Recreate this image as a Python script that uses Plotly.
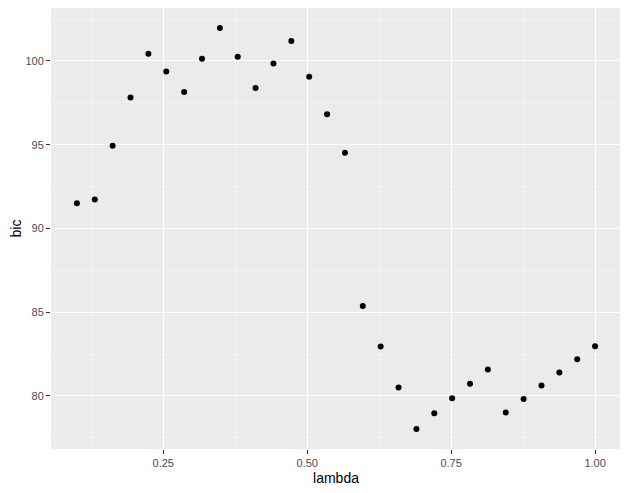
import plotly.graph_objects as go

# lambda grid and BIC
lam = [0.1 + i * 0.9 / 29 for i in range(30)]
bic = [91.50, 91.72, 94.93, 97.82, 100.42, 99.37, 98.14, 100.12, 101.96, 100.24,
       98.38, 99.84, 101.19, 99.05, 96.81, 94.51, 85.37, 82.95, 80.51, 78.03,
       78.97, 79.86, 80.73, 81.58, 79.01, 79.82, 80.63, 81.40, 82.19, 82.97]

x_ticks = [0.25, 0.50, 0.75, 1.00]
x_labels = ["0.25", "0.50", "0.75", "1.00"]
y_ticks = [80, 85, 90, 95, 100]

fig = go.Figure()
fig.add_trace(go.Scatter(
    x=lam, y=bic, mode="markers",
    marker=dict(color="black", size=6, line=dict(width=0)),
    showlegend=False,
))

x_span = max(lam) - min(lam)
y_span = max(bic) - min(bic)

axis_common = dict(
    automargin=False,
    showgrid=True, gridcolor="white", gridwidth=1.1,
    zeroline=False, showline=False,
    ticks="outside", ticklen=4, tickwidth=1.1, tickcolor="#333333",
    tickfont=dict(family="Liberation Sans, Arial, sans-serif", size=11, color="#4D4D4D"),
    minor=dict(showgrid=True, gridcolor="#F2F2F2", gridwidth=0.6, ticks=""),
)

fig.update_xaxes(
    range=[min(lam) - 0.05 * x_span, max(lam) + 0.05 * x_span],
    tickvals=x_ticks, ticktext=x_labels,
    title=dict(text="lambda", standoff=4,
               font=dict(family="Liberation Sans, Arial, sans-serif", size=14, color="black")),
    **axis_common,
)
fig.update_xaxes(minor_tickvals=[0.125, 0.375, 0.625, 0.875])

fig.update_yaxes(
    range=[min(bic) - 0.05 * y_span, max(bic) + 0.05 * y_span],
    tickvals=y_ticks,
    title=dict(text="bic", standoff=4,
               font=dict(family="Liberation Sans, Arial, sans-serif", size=14, color="black")),
    **axis_common,
)
fig.update_yaxes(minor_tickvals=[77.5, 82.5, 87.5, 92.5, 97.5, 102.5])

# page body adds an 8px margin, so the figure is sized to fit inside the window
fig.update_layout(
    width=620, height=485,
    margin=dict(l=43, r=7, t=0, b=44),
    plot_bgcolor="#EBEBEB",
    paper_bgcolor="white",
)

fig.write_html("out.html")
